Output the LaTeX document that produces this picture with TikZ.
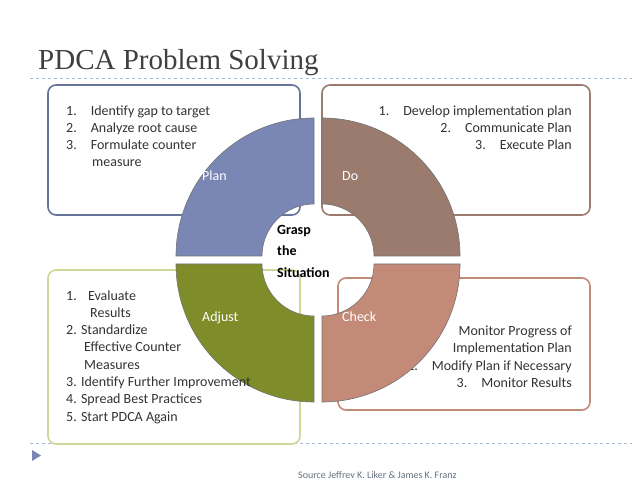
\documentclass[tikz,border=0pt]{standalone}
\usepackage{fontspec}
\setmainfont{Carlito}
\newfontfamily\titlefont{Liberation Serif}
\begin{document}
\begin{tikzpicture}[x=1pt,y=-1pt,
  box/.style={draw,line width=1.6pt,rounded corners=8pt,fill=white},
  txt/.style={font=\fontsize{14}{17}\selectfont,inner sep=0pt,text=black!80},
  ql/.style={font=\fontsize{14}{17}\selectfont,text=white,inner sep=0pt},
  quarter/.style={draw=black!55,line width=0.6pt}]
\definecolor{cplan}{HTML}{7A87B5}
\definecolor{cdo}{HTML}{9B7B6E}
\definecolor{cadj}{HTML}{7E8C2A}
\definecolor{cchk}{HTML}{C48A78}
\definecolor{cline}{HTML}{A9BCD0}
\useasboundingbox (0,0) rectangle (638,478);
\fill[white] (0,0) rectangle (638,478);
\node[anchor=base west,inner sep=0pt,font=\titlefont\fontsize{29}{32}\selectfont,text=black!75] (title) at (38,70) {PDCA Problem Solving};
\draw[cline,dashed,line width=0.8pt] (30,78) coordinate (d1) -- (632,78) coordinate (d2);
\draw[cline,dashed,line width=0.8pt] (30,443) coordinate (d3) -- (632,443) coordinate (d4);
\fill[cplan] (32,450) -- (41,455.5) -- (32,461) -- cycle;
% boxes
\draw[box,draw=cplan!85!black] (48,85) rectangle (300,215);
\draw[box,draw=cdo] (322,85) rectangle (590,215);
\draw[box,draw=cadj!40!white!90!yellow] (48,270) rectangle (300,444);
\draw[box,draw=cchk] (338,278) rectangle (590,410);
% box texts
\node[txt,anchor=base west] (p1) at (66,116) {1.\hspace{1em}Identify gap to target};
\node[txt,anchor=base west] (p2) at (66,133) {2.\hspace{1em}Analyze root cause};
\node[txt,anchor=base west] (p3) at (66,150) {3.\hspace{1em}Formulate counter};
\node[txt,anchor=base west] (p4) at (92,167) {measure};
\node[txt,anchor=base east] (d1t) at (572,116) {1.\hspace{1em}Develop implementation plan};
\node[txt,anchor=base east] (d2t) at (572,133) {2.\hspace{1em}Communicate Plan};
\node[txt,anchor=base east] (d3t) at (572,150) {3.\hspace{1em}Execute Plan};
\node[txt,anchor=base east] (c1) at (572,336) {Monitor Progress of};
\node[txt,anchor=base east] (c2) at (572,353) {Implementation Plan};
\node[txt,anchor=base east] (c3) at (572,371) {2.\hspace{1em}Modify Plan if Necessary};
\node[txt,anchor=base east] (c4) at (572,388) {3.\hspace{1em}Monitor Results};
% quarters (y axis points down: angle 270 is visually up)
\def\R{138}\def\r{52}
\draw[quarter,fill=cplan] (314,256) ++(180:\R) arc[start angle=180,end angle=270,radius=\R] -- ++(0,\R-\r) arc[start angle=270,end angle=180,radius=\r] -- cycle;
\draw[quarter,fill=cdo] (322,256) ++(270:\R) arc[start angle=270,end angle=360,radius=\R] -- ++(\r-\R,0) arc[start angle=360,end angle=270,radius=\r] -- cycle;
\draw[quarter,fill=cadj] (314,264) ++(180:\R) arc[start angle=180,end angle=90,radius=\R] -- ++(0,\r-\R) arc[start angle=90,end angle=180,radius=\r] -- cycle;
\draw[quarter,fill=cchk] (322,264) ++(90:\R) arc[start angle=90,end angle=0,radius=\R] -- ++(\r-\R,0) arc[start angle=0,end angle=90,radius=\r] -- cycle;
\node[ql,anchor=base west] (lp) at (202,181) {Plan};
\node[ql,anchor=base west] (ld) at (342,181) {Do};
\node[ql,anchor=base west] (la) at (202,322) {Adjust};
\node[ql,anchor=base west] (lc) at (342,322) {Check};
\node[anchor=west,align=left,inner sep=0pt,font=\bfseries\fontsize{14}{21.5}\selectfont] (g) at (277,251) {Grasp\\the\\Situation};
% adjust text
\node[txt,anchor=base west] (a1) at (66,301) {1.\hspace{0.8em}Evaluate};
\node[txt,anchor=base west] (a2) at (90,318) {Results};
\node[txt,anchor=base west] (a3) at (66,335) {2. Standardize};
\node[txt,anchor=base west] (a4) at (84,352) {Effective Counter};
\node[txt,anchor=base west] (a5) at (84,370) {Measures};
\node[txt,anchor=base west] (a6) at (66,387) {3. Identify Further Improvement};
\node[txt,anchor=base west] (a7) at (66,404) {4. Spread Best Practices};
\node[txt,anchor=base west] (a8) at (66,422) {5. Start PDCA Again};
\node[anchor=base west,inner sep=0pt,font=\fontsize{10}{12}\selectfont,text=cline!60!black] (src) at (298,479) {Source Jeffrey K. Liker \& James K. Franz};
\end{tikzpicture}
\end{document}
